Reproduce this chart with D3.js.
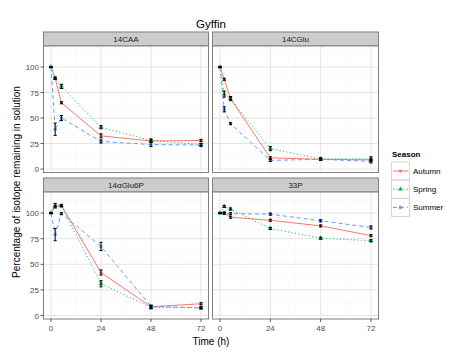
<!DOCTYPE html>
<html><head><meta charset="utf-8">
<script src="https://cdn.jsdelivr.net/npm/d3@7"></script>
<style>body{margin:0;background:#fff}svg{display:block}text{font-family:"Liberation Sans",Arial,sans-serif}</style>
</head><body>
<svg id="c" width="474" height="356"></svg>
<script>
const times = [0, 2, 5, 24, 48, 72];
const panels = ["14CAA", "14CGlu", "14\u03b1Glu6P", "33P"];
const seasons = ["Autumn", "Spring", "Summer"];
const xTicks = [0, 24, 48, 72];
const yTicks = [0, 25, 50, 75, 100];

const autumn = [
  [100, 89, 65, 32.5, 27.5, 28],
  [100, 88, 69, 11, 9.5, 9],
  [100, 108, 107.5, 42, 8.5, 11.5],
  [100, 100, 96, 93, 87.5, 78]
];
const spring = [
  [100, 89, 81, 41, 28, 24],
  [100, 73.5, 69, 20, 10, 10],
  [100, 106, 107, 31, 8, 7.5],
  [100, 106.5, 104, 85, 75.5, 73]
];
const summer = [
  [100, 39, 50, 27, 24, 23.5],
  [100, 58.5, 44.5, 8.5, 9.5, 7.5],
  [100, 79, 99.5, 67.5, 9, 7.5],
  [100, 100, 99.5, 99, 92.5, 86]
];
const autumnSE = [
  [0, 1, 1, 2, 1, 1],
  [0, 1, 1, 1, 1, 1],
  [0, 1.5, 1, 2.5, 1.5, 1],
  [0, 1, 1, 1, 1, 1]
];
const springSE = [
  [0, 1, 2, 1.5, 1.5, 1],
  [0, 3, 2, 2, 1, 2],
  [0, 1, 1, 3, 1.5, 1],
  [0, 1, 1, 1, 1, 1]
];
const summerSE = [
  [0, 6, 2.5, 1.5, 2, 1.5],
  [0, 2.5, 1, 1, 1, 1.5],
  [0, 6, 1, 4, 1, 1],
  [0, 1, 1, 1, 1, 1.5]
];

const seriesVals = [autumn, spring, summer];
const seriesSE = [autumnSE, springSE, summerSE];
const colors = ["#F8766D", "#00BA38", "#619CFF"];
const dashes = [null, "1,2.5", "4,3"];

const svg = d3.select("#c");
const cols = [[43.5, 208.5], [212.5, 378.5]];
const rows = [{s: 32, p: 46, b: 172.5}, {s: 178, p: 192, b: 319}];

const xDom = [-3.6, 75.6], yDom = [-3.4, 120.6];

svg.append("text").attr("x", 211).attr("y", 28).attr("text-anchor", "middle")
  .attr("font-size", 11.5).attr("fill", "#000").text("Gyffin");

panels.forEach((name, i) => {
  const c = cols[i % 2], r = rows[Math.floor(i / 2)];
  const x = d3.scaleLinear().domain(xDom).range(c);
  const y = d3.scaleLinear().domain(yDom).range([r.b, r.p]);
  const g = svg.append("g");
  // strip
  g.append("rect").attr("x", c[0]).attr("y", r.s).attr("width", c[1] - c[0]).attr("height", r.p - r.s)
    .attr("fill", "#CCCCCC").attr("stroke", "#808080").attr("stroke-width", 1);
  g.append("text").attr("x", (c[0] + c[1]) / 2).attr("y", (r.s + r.p) / 2 + 3)
    .attr("text-anchor", "middle").attr("font-size", 8).attr("fill", "#1A1A1A").text(name);
  // panel bg
  g.append("rect").attr("x", c[0]).attr("y", r.p).attr("width", c[1] - c[0]).attr("height", r.b - r.p)
    .attr("fill", "#fff");
  // minor grid
  [12, 36, 60].forEach(t => g.append("line").attr("x1", x(t)).attr("x2", x(t)).attr("y1", r.p).attr("y2", r.b)
    .attr("stroke", "#F5F5F5").attr("stroke-width", 0.6));
  [12.5, 37.5, 62.5, 87.5, 112.5].forEach(t => g.append("line").attr("y1", y(t)).attr("y2", y(t)).attr("x1", c[0]).attr("x2", c[1])
    .attr("stroke", "#F5F5F5").attr("stroke-width", 0.6));
  // major grid
  xTicks.forEach(t => g.append("line").attr("x1", x(t)).attr("x2", x(t)).attr("y1", r.p).attr("y2", r.b)
    .attr("stroke", "#E5E5E5").attr("stroke-width", 1));
  yTicks.forEach(t => g.append("line").attr("y1", y(t)).attr("y2", y(t)).attr("x1", c[0]).attr("x2", c[1])
    .attr("stroke", "#E5E5E5").attr("stroke-width", 1));

  // series
  seriesVals.forEach((sv, k) => {
    const vals = sv[i];
    const line = d3.line().x((d, j) => x(times[j])).y(d => y(d));
    const p = g.append("path").attr("d", line(vals)).attr("fill", "none")
      .attr("stroke", colors[k]).attr("stroke-width", 1);
    if (dashes[k]) p.attr("stroke-dasharray", dashes[k]);
  });
  seriesVals.forEach((sv, k) => {
    const vals = sv[i];
    vals.forEach((v, j) => {
      const cx = x(times[j]), cy = y(v);
      if (k === 0) g.append("circle").attr("cx", cx).attr("cy", cy).attr("r", 1.6).attr("fill", colors[k]);
      else if (k === 1) g.append("path").attr("d", d3.symbol(d3.symbolTriangle, 10)()).attr("transform", `translate(${cx},${cy})`).attr("fill", colors[k]);
      else g.append("rect").attr("x", cx - 1.5).attr("y", cy - 1.5).attr("width", 3).attr("height", 3).attr("fill", colors[k]);
    });
  });
  seriesVals.forEach((sv, k) => {
    const vals = sv[i], se = seriesSE[k][i];
    vals.forEach((v, j) => {
      const cx = x(times[j]);
      const y1 = y(v - se[j]), y2 = y(v + se[j]);
      const w = 1.6;
      g.append("path").attr("d", `M${cx - w},${y1}H${cx + w}M${cx},${y1}V${y2}M${cx - w},${y2}H${cx + w}`)
        .attr("stroke", "#000").attr("stroke-width", 1).attr("fill", "none");
    });
  });

  // border
  g.append("rect").attr("x", c[0]).attr("y", r.p).attr("width", c[1] - c[0]).attr("height", r.b - r.p)
    .attr("fill", "none").attr("stroke", "#808080").attr("stroke-width", 1);

  // axes
  if (i % 2 === 0) {
    yTicks.forEach(t => {
      g.append("line").attr("x1", c[0] - 3).attr("x2", c[0]).attr("y1", y(t)).attr("y2", y(t)).attr("stroke", "#333").attr("stroke-width", 0.8);
      g.append("text").attr("x", c[0] - 4.5).attr("y", y(t) + 3).attr("text-anchor", "end").attr("font-size", 8).attr("fill", "#4D4D4D").text(t);
    });
  }
  if (Math.floor(i / 2) === 1) {
    xTicks.forEach(t => {
      g.append("line").attr("x1", x(t)).attr("x2", x(t)).attr("y1", r.b).attr("y2", r.b + 3).attr("stroke", "#333").attr("stroke-width", 0.8);
      g.append("text").attr("x", x(t)).attr("y", r.b + 11.5).attr("text-anchor", "middle").attr("font-size", 8).attr("fill", "#4D4D4D").text(t);
    });
  }
});

svg.append("text").attr("x", 211).attr("y", 345).attr("text-anchor", "middle")
  .attr("font-size", 10).attr("fill", "#000").text("Time (h)");
svg.append("text").attr("transform", "translate(20,182) rotate(-90)").attr("text-anchor", "middle")
  .attr("font-size", 10).attr("fill", "#000").text("Percentage of isotope remaining in solution");

// legend
const lg = svg.append("g");
lg.append("text").attr("x", 392).attr("y", 157).attr("font-size", 8).attr("font-weight", "bold").text("Season");
seasons.forEach((s, k) => {
  const top = 162 + k * 18.2;
  lg.append("rect").attr("x", 391.5).attr("y", top).attr("width", 18).attr("height", 18)
    .attr("fill", "#fff").attr("stroke", "#CCCCCC").attr("stroke-width", 0.8);
  const cy = top + 9;
  const l = lg.append("line").attr("x1", 393).attr("x2", 408).attr("y1", cy).attr("y2", cy)
    .attr("stroke", colors[k]).attr("stroke-width", 1);
  if (dashes[k]) l.attr("stroke-dasharray", dashes[k]);
  if (k === 0) lg.append("circle").attr("cx", 400.5).attr("cy", cy).attr("r", 1.6).attr("fill", colors[k]);
  else if (k === 1) lg.append("path").attr("d", d3.symbol(d3.symbolTriangle, 10)()).attr("transform", `translate(400.5,${cy})`).attr("fill", colors[k]);
  else lg.append("rect").attr("x", 399).attr("y", cy - 1.5).attr("width", 3).attr("height", 3).attr("fill", colors[k]);
  lg.append("text").attr("x", 413).attr("y", cy + 3).attr("font-size", 8).attr("fill", "#000").text(s);
});
</script>
</body></html>
